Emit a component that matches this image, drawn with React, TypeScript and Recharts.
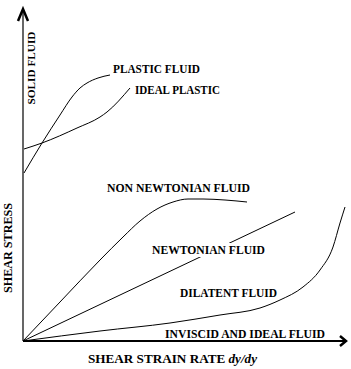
import { LineChart, Line, XAxis, YAxis, ReferenceDot, ReferenceLine } from 'recharts';

// curve points: [strain rate, shear stress]
const plasticFluid = [[1, 168], [19, 198], [37, 226], [49, 244], [57, 253], [64, 258], [75, 263], [87, 266]];
const idealPlastic = [[1, 192], [19, 198], [54, 213], [77, 224], [84, 229], [107, 253]];
const nonNewtonian = [[0, 0], [37, 39], [77, 81], [100, 104], [117, 120], [134, 132], [150, 139], [165, 142], [180, 142], [202, 141], [224, 139]];
const newtonian = [[0, 0], [272, 129]];
const dilatent = [[0, 0], [77, 10], [147, 18], [197, 26], [237, 33], [257, 41], [280, 54], [297, 71], [310, 94], [317, 118], [322, 134]];

const X_MAX = 323;
const Y_MAX = 331;

// annotations: text, anchor point, rendered width
const curveLabels = [
  { text: 'PLASTIC FLUID', x: 90, y: 272, w: 87 },
  { text: 'IDEAL PLASTIC', x: 112, y: 251, w: 85 },
  { text: 'NON NEWTONIAN FLUID', x: 84, y: 153, w: 143 },
  { text: 'NEWTONIAN FLUID', x: 129, y: 91, w: 113, bg: true },
  { text: 'DILATENT FLUID', x: 157, y: 48, w: 97 },
  { text: 'INVISCID AND IDEAL FLUID', x: 142, y: 7, w: 160 },
];

const FONT = '"Liberation Serif", "DejaVu Serif", serif';

const toPts = (arr: number[][]) => arr.map(([x, y]) => ({ x, y }));

const series = [
  { key: 'plastic', data: plasticFluid, type: 'monotone' },
  { key: 'ideal', data: idealPlastic, type: 'monotone' },
  { key: 'nonNewt', data: nonNewtonian, type: 'monotone' },
  { key: 'newt', data: newtonian, type: 'linear' },
  { key: 'dil', data: dilatent, type: 'monotone' },
];

const textShape = (text: string, w: number, bg?: boolean) => (p: any) => (
  <g>
    {bg && <rect x={p.cx - 2} y={p.cy - 7} width={w + 4} height={14} fill="#fff" />}
    <text x={p.cx} y={p.cy} dominantBaseline="central" fontFamily={FONT} fontSize={11.5} fontWeight={700}
      fill="#000" textLength={w} lengthAdjust="spacingAndGlyphs">{text}</text>
  </g>
);

const arrowUp = (p: any) => (
  <path d={`M${p.cx - 5},${p.cy + 12} L${p.cx},${p.cy} L${p.cx + 5},${p.cy + 12}`} fill="none" stroke="#000" strokeWidth={2.5} />
);

const arrowRight = (p: any) => (
  <path d={`M${p.cx - 6},${p.cy - 5} L${p.cx},${p.cy} L${p.cx - 6},${p.cy + 5}`} fill="none" stroke="#000" strokeWidth={2.5} />
);

export default function App() {
  return (
    <div style={{ width: 351, height: 369, background: '#fff' }}>
      <style>{'body{margin:0}'}</style>
      <LineChart width={351} height={369} margin={{ top: 10, right: 5, left: 23, bottom: 28 }}>
        <XAxis type="number" dataKey="x" domain={[0, X_MAX]} allowDataOverflow hide />
        <YAxis type="number" dataKey="y" domain={[0, Y_MAX]} allowDataOverflow hide />
        <ReferenceLine x={0} stroke="#000" strokeWidth={1.2} />
        <ReferenceLine y={0} stroke="#000" strokeWidth={2} />
        {series.map((s) => (
          <Line key={s.key} data={toPts(s.data)} dataKey="y" type={s.type as any} stroke="#000" strokeWidth={1}
            dot={false} activeDot={false} isAnimationActive={false} />
        ))}
        {curveLabels.map((l) => (
          <ReferenceDot key={l.text} x={l.x} y={l.y} ifOverflow="visible" shape={textShape(l.text, l.w, l.bg)} />
        ))}
        <ReferenceDot x={0} y={Y_MAX + 1} ifOverflow="visible" shape={arrowUp} />
        <ReferenceDot x={X_MAX} y={0} ifOverflow="visible" shape={arrowRight} />
        <ReferenceDot x={65} y={-18} ifOverflow="visible" shape={(p: any) => (
          <text x={p.cx} y={p.cy} dominantBaseline="central" fontFamily={FONT} fontSize={12.5} fontWeight={700} fill="#000"
            textLength={169} lengthAdjust="spacingAndGlyphs">
            SHEAR STRAIN RATE <tspan fontStyle="italic">dy/dy</tspan>
          </text>
        )} />
        <ReferenceDot x={-15} y={93} ifOverflow="visible" shape={(p: any) => (
          <text x={p.cx} y={p.cy} textAnchor="middle" dominantBaseline="central" fontFamily={FONT} fontSize={12.5} fontWeight={700}
            fill="#000" transform={`rotate(-90 ${p.cx} ${p.cy})`} textLength={90} lengthAdjust="spacingAndGlyphs">SHEAR STRESS</text>
        )} />
        <ReferenceDot x={8} y={273} ifOverflow="visible" shape={(p: any) => (
          <text x={p.cx} y={p.cy} textAnchor="middle" dominantBaseline="central" fontFamily={FONT} fontSize={11} fontWeight={700}
            fill="#000" transform={`rotate(-90 ${p.cx} ${p.cy})`} textLength={73} lengthAdjust="spacingAndGlyphs">SOLID FLUID</text>
        )} />
      </LineChart>
    </div>
  );
}
